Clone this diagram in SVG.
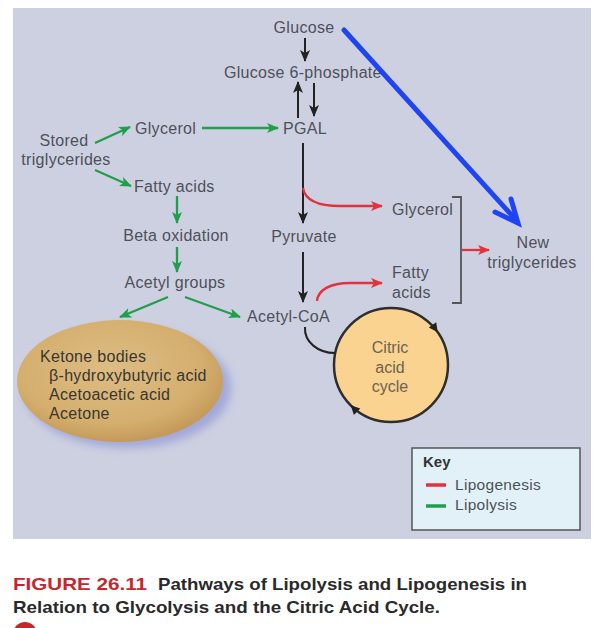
<svg xmlns="http://www.w3.org/2000/svg" width="602" height="628" viewBox="0 0 602 628">
<defs>
<style>
.t{font-family:"Liberation Sans",Arial,sans-serif;font-size:16px;fill:#4d5159;letter-spacing:0.3px}
.m{text-anchor:middle}
.k{font-family:"Liberation Sans",Arial,sans-serif;font-size:16px;fill:#3a362f;letter-spacing:0.3px}
.c{font-family:"Liberation Sans",Arial,sans-serif;font-size:16px;fill:#6d6350;text-anchor:middle}
.cap{font-family:"Liberation Sans",Arial,sans-serif;font-size:17px;font-weight:bold;fill:#2a2a2a}
.blk{stroke:#222;stroke-width:2;fill:none}
.grn{stroke:#1f9e4c;stroke-width:2.3;fill:none}
.red{stroke:#e2323c;stroke-width:2.3;fill:none}
</style>
<marker id="ab" viewBox="0 0 12 10" refX="11" refY="5" markerWidth="12" markerHeight="10" markerUnits="userSpaceOnUse" orient="auto"><path d="M0,0 L12,5 L0,10 L3,5 z" fill="#222"/></marker>
<marker id="ag" viewBox="0 0 12 10" refX="11" refY="5" markerWidth="13" markerHeight="10" markerUnits="userSpaceOnUse" orient="auto"><path d="M0,0 L12,5 L0,10 L3,5 z" fill="#1f9e4c"/></marker>
<marker id="ar" viewBox="0 0 12 10" refX="11" refY="5" markerWidth="13" markerHeight="10" markerUnits="userSpaceOnUse" orient="auto"><path d="M0,0 L12,5 L0,10 L3,5 z" fill="#e2323c"/></marker>
<radialGradient id="tan" cx="0.45" cy="0.4" r="0.6">
<stop offset="0" stop-color="#ddbd84"/>
<stop offset="0.75" stop-color="#d4ae6e"/>
<stop offset="1" stop-color="#c49a58"/>
</radialGradient>
<filter id="blur" x="-20%" y="-20%" width="140%" height="140%"><feGaussianBlur stdDeviation="4"/></filter>
</defs>
<rect width="602" height="628" fill="#ffffff"/>
<rect x="13" y="8" width="578" height="531" fill="#cdd0e1"/>

<g id="ketone-bodies">
<ellipse cx="127" cy="388" rx="104" ry="60" fill="#a3a8d8" filter="url(#blur)"/>
<ellipse cx="120" cy="381" rx="103" ry="61" fill="url(#tan)"/>
<text class="k" x="40" y="362">Ketone bodies</text>
<text class="k" x="49" y="381">β-hydroxybutyric acid</text>
<text class="k" x="49" y="400">Acetoacetic acid</text>
<text class="k" x="49" y="419">Acetone</text>
</g>

<g id="citric-acid-cycle">
<circle cx="391" cy="365" r="57" fill="#fad390" stroke="#2e2e2e" stroke-width="2.5"/>
<polygon points="437.7,332.3 436.2,322.3 428.8,327.5" fill="#222"/>
<polygon points="350.7,405.3 360.3,408.5 353.9,414.9" fill="#222"/>
<text class="c" x="390" y="353">Citric</text>
<text class="c" x="390" y="373">acid</text>
<text class="c" x="390" y="392">cycle</text>
</g>

<g id="connectors">
<path class="blk" d="M305,38 L305,61" marker-end="url(#ab)"/>
<path class="blk" d="M298,118 L298,82" marker-end="url(#ab)"/>
<path class="blk" d="M314,83 L314,116" marker-end="url(#ab)"/>
<path class="blk" d="M303,143 L303,223" marker-end="url(#ab)"/>
<path class="blk" d="M303,252 L303,302" marker-end="url(#ab)"/>
<path class="blk" d="M305,327 C304,342 318,353 335,353"/>
<path class="grn" d="M95,143 L130,127" marker-end="url(#ag)"/>
<path class="grn" d="M95,170 L131,186" marker-end="url(#ag)"/>
<path class="grn" d="M202,128 L278,128" marker-end="url(#ag)"/>
<path class="grn" d="M177,196 L177,223" marker-end="url(#ag)"/>
<path class="grn" d="M177,247 L177,272" marker-end="url(#ag)"/>
<path class="grn" d="M168,297 L120,317" marker-end="url(#ag)"/>
<path class="grn" d="M185,297 L240,317" marker-end="url(#ag)"/>
<path class="red" d="M303,188 C305,200 318,206 340,206 L382,206" marker-end="url(#ar)"/>
<path class="red" d="M317,301 C318,290 330,283 350,283 L382,283" marker-end="url(#ar)"/>
<path d="M452,197 L461,197 L461,303 L452,303" fill="none" stroke="#555" stroke-width="1.8"/>
<path class="red" d="M462,250 L489,250" marker-end="url(#ar)"/>
</g>

<g id="glucose"><text class="t m" x="304" y="33">Glucose</text></g>
<g id="glucose-6-phosphate"><text class="t" x="224" y="78">Glucose 6-phosphate</text></g>
<g id="pgal"><text class="t" x="283" y="134">PGAL</text></g>
<g id="stored-triglycerides"><text class="t m" x="64" y="146">Stored</text><text class="t m" x="66" y="165">triglycerides</text></g>
<g id="glycerol-left"><text class="t" x="135" y="134">Glycerol</text></g>
<g id="fatty-acids-left"><text class="t" x="134" y="192">Fatty acids</text></g>
<g id="beta-oxidation"><text class="t m" x="176" y="241">Beta oxidation</text></g>
<g id="acetyl-groups"><text class="t m" x="175" y="288">Acetyl groups</text></g>
<g id="acetyl-coa"><text class="t" x="247" y="322">Acetyl-CoA</text></g>
<g id="pyruvate"><text class="t m" x="304" y="242">Pyruvate</text></g>
<g id="glycerol-right"><text class="t" x="392" y="215">Glycerol</text></g>
<g id="fatty-acids-right"><text class="t" x="392" y="278">Fatty</text><text class="t" x="392" y="298">acids</text></g>
<g id="new-triglycerides"><text class="t m" x="533" y="248">New</text><text class="t m" x="532" y="268">triglycerides</text></g>

<g id="blue-arrow">
<path d="M344,30 L516,220" stroke="#1f44f4" stroke-width="5" fill="none" stroke-linecap="round"/>
<polyline points="495,212 518,223 511,199" stroke="#1f44f4" stroke-width="5" fill="none" stroke-linecap="round" stroke-linejoin="miter"/>
</g>

<g id="key">
<rect x="412" y="448" width="168" height="82" fill="#e2f1f8" stroke="#555" stroke-width="1.5"/>
<text x="423" y="467" style="font-family:'Liberation Sans',Arial,sans-serif;font-size:15px;font-weight:bold;fill:#333">Key</text>
<line x1="426" y1="485" x2="446" y2="485" stroke="#e2323c" stroke-width="3.5"/>
<text class="t" x="455" y="490" style="font-size:15.5px">Lipogenesis</text>
<line x1="426" y1="506" x2="446" y2="506" stroke="#1f9e4c" stroke-width="3.5"/>
<text class="t" x="455" y="510" style="font-size:15.5px">Lipolysis</text>
</g>

<g id="caption">
<text class="cap" x="13" y="590" textLength="134" lengthAdjust="spacingAndGlyphs" style="fill:#c8262c">FIGURE 26.11</text>
<text class="cap" x="158" y="590" textLength="369" lengthAdjust="spacingAndGlyphs">Pathways of Lipolysis and Lipogenesis in</text>
<text class="cap" x="13" y="613" textLength="427" lengthAdjust="spacingAndGlyphs">Relation to Glycolysis and the Citric Acid Cycle.</text>
<circle cx="25" cy="634" r="12" fill="#c8262c"/>
</g>
</svg>
